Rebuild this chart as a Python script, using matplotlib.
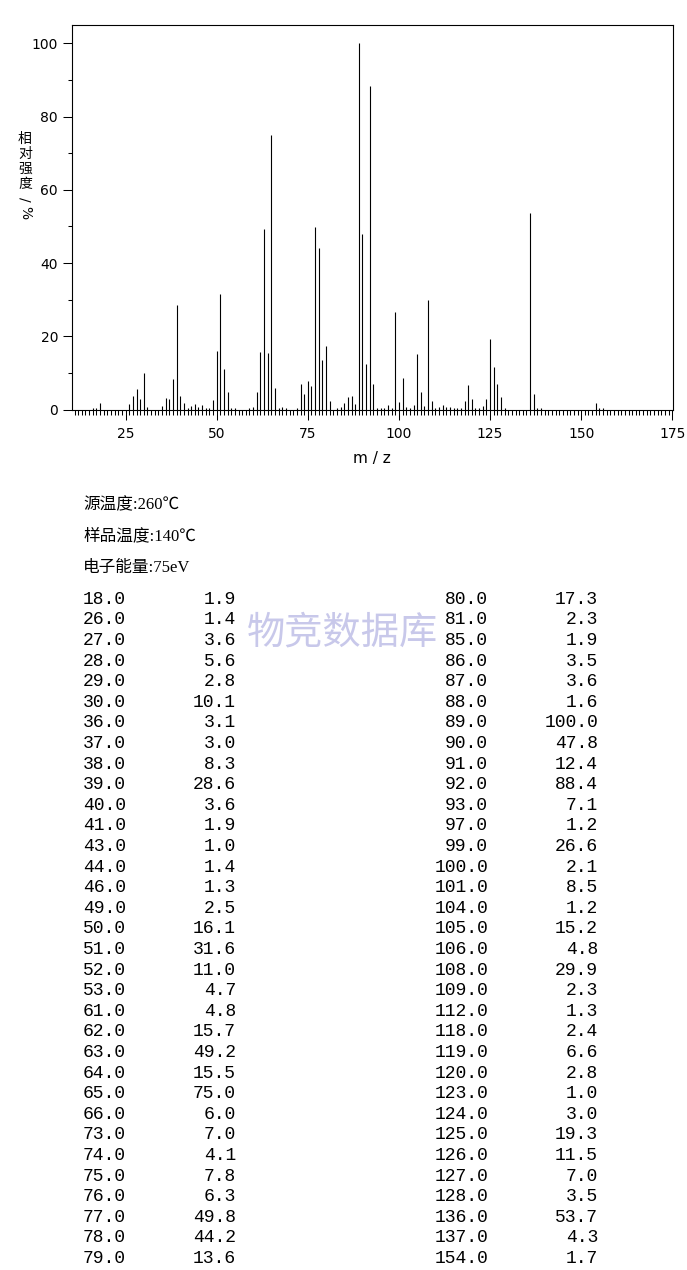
import numpy as np
import matplotlib.pyplot as plt
from matplotlib.ticker import MultipleLocator

# peaks listed in the table (m/z, relative intensity %)
mz = [18, 26, 27, 28, 29, 30, 36, 37, 38, 39, 40, 41, 43, 44, 46, 49, 50, 51,
      52, 53, 61, 62, 63, 64, 65, 66, 73, 74, 75, 76, 77, 78, 79,
      80, 81, 85, 86, 87, 88, 89, 90, 91, 92, 93, 97, 99, 100, 101, 104, 105,
      106, 108, 109, 112, 118, 119, 120, 123, 124, 125, 126, 127, 128, 136,
      137, 154]
intensity = [1.9, 1.4, 3.6, 5.6, 2.8, 10.1, 3.1, 3.0, 8.3, 28.6, 3.6, 1.9, 1.0,
             1.4, 1.3, 2.5, 16.1, 31.6, 11.0, 4.7, 4.8, 15.7, 49.2, 15.5, 75.0,
             6.0, 7.0, 4.1, 7.8, 6.3, 49.8, 44.2, 13.6,
             17.3, 2.3, 1.9, 3.5, 3.6, 1.6, 100.0, 47.8, 12.4, 88.4, 7.1, 1.2,
             26.6, 2.1, 8.5, 1.2, 15.2, 4.8, 29.9, 2.3, 1.3, 2.4, 6.6, 2.8, 1.0,
             3.0, 19.3, 11.5, 7.0, 3.5, 53.7, 4.3, 1.7]

# small peaks (<1 %) only seen in the spectrum
small_mz = [16, 17, 31, 35, 42, 45, 47, 48, 54, 55, 59, 60, 67, 68, 69, 72, 83,
            84, 94, 95, 96, 98, 102, 103, 107, 110, 111, 113, 114, 115, 116,
            117, 121, 122, 129, 138, 139, 155, 156]
small_int = [0.3, 0.5, 0.6, 0.9, 0.4, 0.6, 0.3, 0.4, 0.5, 0.5, 0.5, 0.8, 0.5,
             0.6, 0.3, 0.4, 0.4, 0.6, 0.3, 0.4, 0.3, 0.5, 0.6, 0.5, 0.9, 0.4,
             0.6, 0.8, 0.6, 0.3, 0.4, 0.5, 0.5, 0.4, 0.3, 0.4, 0.3, 0.5, 0.3]

header = ['源温度:260℃', '样品温度:140℃', '电子能量:75eV']
ylabel_chars = ['相', '对', '强', '度']

W, H = 687, 1270


def fx(px):
    return px / W


def fy(py):
    return 1 - py / H


fig = plt.figure(figsize=(W / 100, H / 100), dpi=100)
ax = fig.add_axes([fx(72), fy(409.5), fx(673) - fx(72), fy(25) - fy(409.5)])

ax.vlines(small_mz, 0, small_int, color='black', lw=0.8)
ax.vlines(mz, 0, intensity, color='black', lw=0.8)

ax.set_xlim(10.3, 175.2)
ax.set_ylim(0, 105)
ax.xaxis.set_major_locator(MultipleLocator(25))
ax.xaxis.set_minor_locator(MultipleLocator(1))
ax.yaxis.set_major_locator(MultipleLocator(20))
ax.yaxis.set_minor_locator(MultipleLocator(10))
ax.set_xticks(np.arange(25, 176, 25))
ax.tick_params(axis='x', which='major', length=7.2, width=0.75, pad=5.5,
               labelsize=10)
ax.tick_params(axis='x', which='minor', length=3.6, width=0.75)
ax.tick_params(axis='y', which='major', length=6.5, width=0.75, pad=3.5,
               labelsize=10)
ax.tick_params(axis='y', which='minor', length=3.2, width=0.75)
for s in ax.spines.values():
    s.set_linewidth(0.8)

fig.text(fx(372), fy(458), 'm / z', ha='center', va='center', fontsize=11)

# vertical y label, one character per line
for ch, py in zip(ylabel_chars, [139, 154, 169, 184]):
    fig.text(fx(25), fy(py), ch, ha='center', va='center', fontsize=10,
             family=['Noto Sans CJK SC'])
fig.text(fx(25), fy(199), '/', ha='center', va='center', fontsize=10,
         rotation=-90)
fig.text(fx(25), fy(213), '%', ha='center', va='center', fontsize=10,
         rotation=-90)

# header lines
for txt, py in zip(header, [505, 536.5, 567.5]):
    fig.text(fx(83), fy(py), txt, ha='left', va='center', fontsize=12,
             family=['Liberation Serif', 'Noto Sans CJK SC'])

# watermark
fig.text(fx(343), fy(633), '物竞数据库', ha='center', va='center',
         fontsize=27.5, color='#c8c8ea', family=['Noto Sans CJK SC'], zorder=0)

# peak table in two columns
n_left = 33
row0, dy = 597.5, 20.6
for i, (m, v) in enumerate(zip(mz, intensity)):
    col = i // n_left
    base = row0 + (i % n_left) * dy + 6.3
    if col == 0:
        fig.text(fx(83), fy(base), f'{m:.1f}', ha='left', va='baseline',
                 fontsize=13, family='Liberation Mono', zorder=2)
        fig.text(fx(236), fy(base), f'{v:.1f}', ha='right', va='baseline',
                 fontsize=13, family='Liberation Mono', zorder=2)
    else:
        fig.text(fx(488), fy(base), f'{m:.1f}', ha='right', va='baseline',
                 fontsize=13, family='Liberation Mono', zorder=2)
        fig.text(fx(598), fy(base), f'{v:.1f}', ha='right', va='baseline',
                 fontsize=13, family='Liberation Mono', zorder=2)

plt.savefig('out.png', dpi=100)
